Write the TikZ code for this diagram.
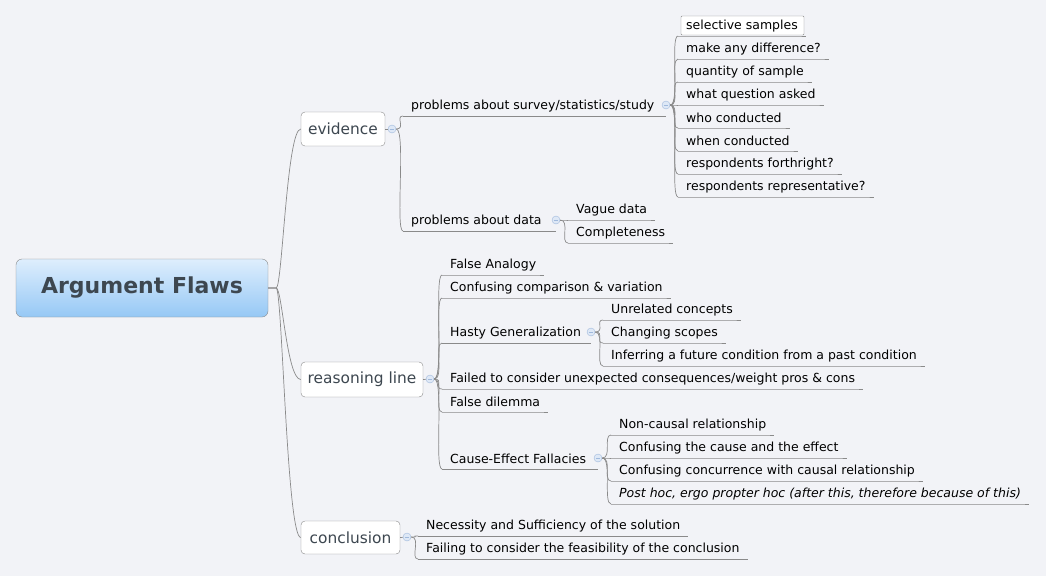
\documentclass[tikz,border=0pt]{standalone}
\usepackage{fontspec}
\setmainfont{DejaVu Sans}
\usetikzlibrary{calc}
\begin{document}
\definecolor{bg}{HTML}{F2F3F7}
\definecolor{ln}{HTML}{8A8A8A}
\definecolor{rt}{HTML}{3D4750}
\definecolor{tg}{HTML}{A0B9DC}
\begin{tikzpicture}[x=1pt,y=-1pt,
  con/.style={draw=ln,line width=0.7pt},
  leaftxt/.style={anchor=west,inner sep=0pt,font=\fontsize{12.5}{14}\selectfont,text=black},
  box/.style={draw=ln,rounded corners=4pt,fill=white,inner sep=0pt,font=\fontsize{15.4}{18}\selectfont,text=rt},
  tog/.style={circle,draw=tg,fill={rgb,255:red,222;green,232;blue,246},minimum size=8pt,inner sep=0pt,
    path picture={\draw[tg,line width=0.8pt] ($(path picture bounding box.center)+(-2.2,0)$) -- ($(path picture bounding box.center)+(2.2,0)$);}}]
\newcommand\lf[5]{% name, x, y, text, parent
  \node[leaftxt] (#1) at (#2,#3+1) {#4};
  \coordinate (#1u) at (#2-8,#3+11);
  \draw[con] (#1u) -- (#1.east |- #1u) -- ++(8,0);
  \draw[con] (#5) .. controls ($(#5)+(10,0)$) and ($(#1u)+(-8,0)$) .. (#1u);}
\fill[bg] (0,0) rectangle (1046,576);
\useasboundingbox (0,0) rectangle (1046,576);
% root
\node[draw=ln,rounded corners=6pt,minimum width=252pt,minimum height=58pt,inner sep=0pt,
  top color={rgb,255:red,222;green,238;blue,253},bottom color={rgb,255:red,150;green,200;blue,245},
  font=\fontsize{22}{25}\selectfont\bfseries,text=rt] (root) at (142,288) {Argument Flaws};
\node[box,minimum width=84pt,minimum height=34pt] (ev) at (343,129) {evidence};
\node[box,minimum width=122pt,minimum height=35pt] (rl) at (362,379.5) {reasoning line};
\node[box,minimum width=99pt,minimum height=33pt] (cn) at (350.5,537.5) {conclusion};
\foreach \n in {ev,rl,cn}{\draw[con] (root.east) -- ++(8,0) .. controls ($(root.east)+(14,0)$) and ($(\n.west)+(-14,0)$) .. (\n.west);}
\node[tog] (evt) at (392,129) {};
\node[tog] (rlt) at (430,379) {};
\node[tog] (cnt) at (407,537) {};
\draw[con] (ev.east) -- (evt); \draw[con] (rl.east) -- (rlt); \draw[con] (cn.east) -- (cnt);
% evidence
\node[tog] (svt) at (666,105) {};
\node[tog] (dtt) at (556,220) {};
\lf{sv}{411}{105}{problems about survey/statistics/study}{evt.east}
\lf{dt}{411}{220}{problems about data}{evt.east}
\draw[con] (svu) -- (svt |- svu); \draw[con] (dtu) -- (dtt |- dtu);
\lf{s1}{686}{25}{selective samples}{svt.east}
\draw[draw=ln,fill=white,rounded corners=1pt] (681,16) rectangle (804,35);
\node[leaftxt] at (686,26) {selective samples};
\lf{s2}{686}{48}{make any difference?}{svt.east}
\lf{s3}{686}{71}{quantity of sample}{svt.east}
\lf{s4}{686}{94}{what question asked}{svt.east}
\lf{s5}{686}{117}{who conducted}{svt.east}
\lf{s6}{686}{140}{when conducted}{svt.east}
\lf{s7}{686}{163}{respondents forthright?}{svt.east}
\lf{s8}{686}{186}{respondents representative?}{svt.east}
\lf{d1}{576}{209}{Vague data}{dtt.east}
\lf{d2}{576}{232}{Completeness}{dtt.east}
% reasoning
\node[tog] (r3t) at (591,332) {};
\node[tog] (r6t) at (598,458) {};
\lf{r1}{450}{264}{False Analogy}{rlt.east}
\lf{r2}{450}{287}{Confusing comparison \& variation}{rlt.east}
\lf{r3}{450}{332}{Hasty Generalization}{rlt.east}
\lf{r4}{450}{378}{Failed to consider unexpected consequences/weight pros \& cons}{rlt.east}
\lf{r5}{450}{401}{False dilemma}{rlt.east}
\lf{r6}{450}{458}{Cause-Effect Fallacies}{rlt.east}
\draw[con] (r3u) -- (r3t |- r3u); \draw[con] (r6u) -- (r6t |- r6u);
\lf{h1}{611}{309}{Unrelated concepts}{r3t.east}
\lf{h2}{611}{332}{Changing scopes}{r3t.east}
\lf{h3}{611}{355}{Inferring a future condition from a past condition}{r3t.east}
\lf{c1}{619}{424}{Non-causal relationship}{r6t.east}
\lf{c2}{619}{447}{Confusing the cause and the effect}{r6t.east}
\lf{c3}{619}{470}{Confusing concurrence with causal relationship}{r6t.east}
\lf{c4}{619}{493}{\itshape Post hoc, ergo propter hoc (after this, therefore because of this)}{r6t.east}
% conclusion
\lf{k1}{426}{525}{Necessity and Sufficiency of the solution}{cnt.east}
\lf{k2}{426}{548}{Failing to consider the feasibility of the conclusion}{cnt.east}
\end{tikzpicture}
\end{document}
